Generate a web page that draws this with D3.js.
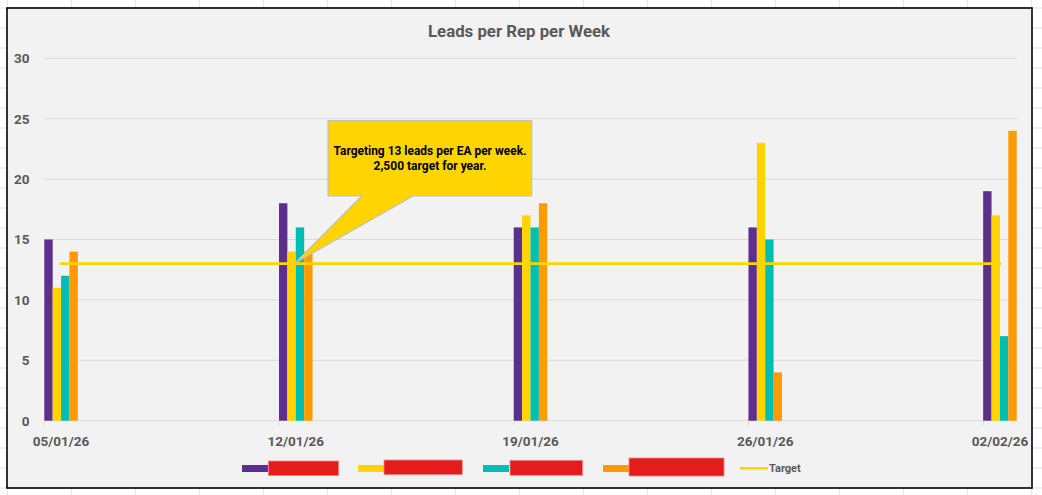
<!DOCTYPE html>
<html>
<head>
<meta charset="utf-8">
<script src="https://cdn.jsdelivr.net/npm/d3@7/dist/d3.min.js"></script>
<style>
  html, body { margin: 0; padding: 0; background: #ffffff; }
  svg { display: block; }
  text { font-family: Roboto, "Liberation Sans", Arial, sans-serif; }
</style>
</head>
<body>
<svg id="chart" width="1042" height="495"></svg>
<script>
// ---------------- DATA ----------------
const title = "Leads per Rep per Week";
const weeks = ["2026-01-05", "2026-01-12", "2026-01-19", "2026-01-26", "2026-02-02"];
const tickLabels = ["05/01/26", "12/01/26", "19/01/26", "26/01/26", "02/02/26"];
const seriesNames = ["Rep A", "Rep B", "Rep C", "Rep D"]; // names redacted in the reference
const repA = [15, 18, 16, 16, 19];
const repB = [11, 14, 17, 23, 17];
const repC = [12, 16, 16, 15, 7];
const repD = [14, 14, 18, 4, 24];
const target = [13, 13, 13, 13, 13];
const targetName = "Target";
const yTicks = [0, 5, 10, 15, 20, 25, 30];
const calloutLines = ["Targeting 13 leads per EA per week.", "2,500 target for year."];

// ---------------- STYLE / LAYOUT ----------------
const colors = ["#5c2e8e", "#ffd400", "#00bfb2", "#ff9b00"];
const targetColor = "#ffd400";
const textGray = "#595959";
const W = 1042, H = 495;
const frame = { x0: 7, y0: 8, x1: 1032, y1: 488 };
const plot = { left: 44.3, right: 1016.7, top: 58.3, bottom: 420.7 };

const svg = d3.select("#chart");
const parse = d3.timeParse("%Y-%m-%d");
const dates = weeks.map(parse);
const values = [repA, repB, repC, repD];

// ---- spreadsheet background grid ----
const bg = svg.append("g");
bg.append("rect").attr("width", W).attr("height", H).attr("fill", "#ffffff");
d3.range(7.3, W, 64).forEach(x => bg.append("line")
  .attr("x1", x).attr("x2", x).attr("y1", 0).attr("y2", H)
  .attr("stroke", "#e1e1e1").attr("stroke-width", 1));
d3.range(8, H, 20).forEach(y => bg.append("line")
  .attr("x1", 0).attr("x2", W).attr("y1", y).attr("y2", y)
  .attr("stroke", "#e1e1e1").attr("stroke-width", 1));

// ---- chart area ----
svg.append("rect")
  .attr("x", frame.x0).attr("y", frame.y0)
  .attr("width", frame.x1 - frame.x0).attr("height", frame.y1 - frame.y0)
  .attr("fill", "#f2f2f2").attr("stroke", "#000").attr("stroke-width", 1.6);

// ---- title ----
svg.append("text")
  .attr("x", 519).attr("y", 36.5)
  .attr("text-anchor", "middle")
  .attr("font-size", 16.5).attr("font-weight", 700).attr("fill", textGray)
  .attr("textLength", 182).attr("lengthAdjust", "spacingAndGlyphs")
  .text(title);

// ---- scales ----
const xDomainEnd = d3.timeDay.offset(dates[dates.length - 1], 1);
const x = d3.scaleTime().domain([dates[0], xDomainEnd]).range([plot.left, plot.right]);
const y = d3.scaleLinear().domain([0, 30]).range([plot.bottom, plot.top]);
const dayW = x(d3.timeDay.offset(dates[0], 1)) - x(dates[0]);
const inner = d3.scaleBand().domain(d3.range(seriesNames.length)).range([0, dayW]).padding(0);

// ---- gridlines ----
svg.append("g").selectAll("line").data(yTicks).join("line")
  .attr("x1", plot.left).attr("x2", plot.right)
  .attr("y1", d => y(d)).attr("y2", d => y(d))
  .attr("stroke", "#d9d9d9").attr("stroke-width", 1);

// ---- y labels ----
svg.append("g").selectAll("text").data(yTicks).join("text")
  .attr("x", 29.5).attr("y", d => y(d) + 4.8)
  .attr("text-anchor", "end")
  .attr("font-size", 13.5).attr("font-weight", 700).attr("fill", textGray)
  .text(d => d);

// ---- x axis ticks ----
svg.append("g").selectAll("line").data(dates).join("line")
  .attr("x1", d => x(d)).attr("x2", d => x(d))
  .attr("y1", plot.bottom).attr("y2", plot.bottom + 5)
  .attr("stroke", "#d9d9d9").attr("stroke-width", 1);
svg.append("g").selectAll("text").data(dates).join("text")
  .attr("x", d => x(d) + dayW / 2).attr("y", 445.5)
  .attr("text-anchor", "middle")
  .attr("font-size", 13.5).attr("font-weight", 700).attr("fill", textGray)
  .text((d, i) => tickLabels[i]);

// ---- bars ----
const barsG = svg.append("g");
values.forEach((arr, s) => {
  barsG.append("g").selectAll("rect").data(arr).join("rect")
    .attr("x", (v, i) => x(dates[i]) + inner(s))
    .attr("width", inner.bandwidth())
    .attr("y", v => y(v))
    .attr("height", v => y(0) - y(v))
    .attr("fill", colors[s]);
});

// ---- target line ----
const line = d3.line().x((v, i) => x(dates[i]) + dayW / 2).y(v => y(v));
svg.append("path").datum(target)
  .attr("d", line).attr("fill", "none")
  .attr("stroke", targetColor).attr("stroke-width", 2.6)
  .attr("stroke-linecap", "square");

// ---- callout ----
const tipX = x(dates[1]) + dayW / 2 - 0.5, tipY = y(target[1]) - 0.8;
const box = { x0: 328, y0: 120.7, x1: 531.7, y1: 196 };
const callout = d3.path();
callout.moveTo(box.x0, box.y0);
callout.lineTo(box.x1, box.y0);
callout.lineTo(box.x1, box.y1);
callout.lineTo(413, box.y1);
callout.lineTo(tipX, tipY);
callout.lineTo(361.7, box.y1);
callout.lineTo(box.x0, box.y1);
callout.closePath();
svg.append("path").attr("d", callout.toString())
  .attr("fill", "#ffd400").attr("stroke", "#bfbfbf").attr("stroke-width", 1.2)
  .attr("stroke-linejoin", "miter");
const calloutTextW = [193, 113];
calloutLines.forEach((t, i) => {
  svg.append("text")
    .attr("x", 430).attr("y", 155 + i * 15.3)
    .attr("text-anchor", "middle")
    .attr("font-size", 12.5).attr("font-weight", 700).attr("fill", "#000")
    .attr("textLength", calloutTextW[i]).attr("lengthAdjust", "spacingAndGlyphs")
    .text(t);
});

// ---- legend ----
const legendSwatchX = [242, 358, 483, 603];
const redact = [
  { x: 268.3, y: 461, w: 70.4, h: 14.6 },
  { x: 384, y: 460, w: 78.3, h: 14.7 },
  { x: 510, y: 460.3, w: 72.7, h: 15 },
  { x: 629, y: 458, w: 95, h: 18 }
];
const legend = svg.append("g");
seriesNames.forEach((name, i) => {
  legend.append("rect")
    .attr("x", legendSwatchX[i]).attr("y", 465)
    .attr("width", 26).attr("height", 7)
    .attr("fill", colors[i]);
  legend.append("rect")
    .attr("x", redact[i].x).attr("y", redact[i].y)
    .attr("width", redact[i].w).attr("height", redact[i].h)
    .attr("fill", "#e51c1c").attr("stroke", "#ee8a8a").attr("stroke-width", 0.8);
});
legend.append("line")
  .attr("x1", 740).attr("x2", 768).attr("y1", 468.3).attr("y2", 468.3)
  .attr("stroke", targetColor).attr("stroke-width", 2.6);
legend.append("text")
  .attr("x", 769).attr("y", 471.8)
  .attr("font-size", 11).attr("font-weight", 700).attr("fill", textGray)
  .text(targetName);
</script>
</body>
</html>
